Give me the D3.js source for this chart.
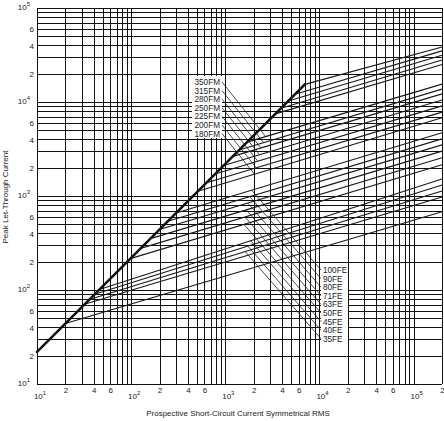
<!DOCTYPE html>
<html>
<head>
<meta charset="utf-8">
<script src="https://cdn.jsdelivr.net/npm/d3@7"></script>
<style>
  body { margin: 0; background: #fff; }
  text { font-family: "Liberation Sans", Arial, Helvetica, sans-serif; fill: #222; }
</style>
</head>
<body>
<svg id="chart" width="444" height="421"></svg>
<script>
// axis ranges (A)
const xDomain = [10, 2e5];
const yDomain = [10, 1e5];

// max let-through line: peak = 2.2 x symmetrical RMS
const peakFactor = 2.2;
const thickLineEnd = 7000;

// FM fuses: prospective current where the curve leaves the thick line, peak at 200 kA
const fmLabels = ["350FM", "315FM", "280FM", "250FM", "225FM", "200FM", "180FM"];
const fmCutoff = [1700, 1400, 1200, 960, 780, 630, 510];
const fmPeak = [15500, 13700, 12200, 10500, 9100, 7800, 6800];

// FE fuses
const feLabels = ["100FE", "90FE", "80FE", "71FE", "63FE", "50FE", "45FE", "40FE", "35FE"];
const feCutoff = [300, 245, 200, 160, 126, 98, 46, 41, 36];
const fePeak = [4700, 4050, 3500, 3000, 2550, 2150, 1520, 1310, 1130];

// other ratings drawn without a label
const otherCutoff = [7000, 5500, 4650, 3900, 3400, 32, 20];
const otherPeak = [38500, 35000, 31500, 28000, 25000, 975, 680];

// tick labels
const xTickLabels = [10, 20, 40, 60, 100, 200, 400, 600, 1000, 2000, 4000, 6000,
                     1e4, 2e4, 4e4, 6e4, 1e5, 2e5];
const yTickLabels = [10, 20, 40, 60, 100, 200, 400, 600, 1000, 2000, 4000, 6000,
                     1e4, 2e4, 4e4, 6e4, 1e5];

const xTitle = "Prospective Short-Circuit Current Symmetrical RMS";
const yTitle = "Peak Let-Through Current";

const margin = { top: 8, right: 2, bottom: 37, left: 37 };
const W = 444, H = 421;
const w = W - margin.left - margin.right;
const h = H - margin.top - margin.bottom;

const x = d3.scaleLog().domain(xDomain).range([margin.left, margin.left + w]);
const y = d3.scaleLog().domain(yDomain).range([margin.top + h, margin.top]);

const svg = d3.select("#chart");

// grid (all 1..9 multiples per decade)
const gx = svg.append("g")
    .attr("transform", `translate(0,${margin.top})`)
    .call(d3.axisBottom(x).tickValues(x.ticks()).tickSize(h).tickFormat(""));
const gy = svg.append("g")
    .attr("transform", `translate(${margin.left},0)`)
    .call(d3.axisRight(y).tickValues(y.ticks()).tickSize(w).tickFormat(""));
[gx, gy].forEach(g => {
    g.select(".domain").remove();
    g.selectAll(".tick line")
        .attr("stroke", "#111")
        .attr("stroke-width", 1)
        .attr("shape-rendering", "crispEdges");
});

// tick labels with superscript powers
const isPow10 = d => Math.abs(Math.log10(d) - Math.round(Math.log10(d))) < 1e-9;
const lead = d => String(Math.round(d / Math.pow(10, Math.floor(Math.log10(d) + 1e-9))));

const xl = svg.append("g")
    .attr("transform", `translate(0,${y(yDomain[0])})`)
    .call(d3.axisBottom(x).tickValues(xTickLabels).tickSize(0).tickFormat(""));
xl.select(".domain").remove();
xl.selectAll(".tick text").each(function (d) {
    const t = d3.select(this).attr("dy", null).attr("font-size", 8).attr("fill", "#222");
    if (isPow10(d)) {
        t.attr("x", -3.6).attr("y", 15).attr("text-anchor", "start").text("10");
        t.append("tspan").attr("dy", -4.5).attr("font-size", 6).text(Math.round(Math.log10(d)));
    } else {
        t.attr("x", 0).attr("y", 9).attr("text-anchor", "middle").text(lead(d));
    }
});
xl.attr("font-family", null).attr("font-size", null);

const yl = svg.append("g")
    .attr("transform", `translate(${margin.left},0)`)
    .call(d3.axisLeft(y).tickValues(yTickLabels).tickSize(0).tickFormat(""));
yl.select(".domain").remove();
yl.selectAll(".tick text").each(function (d) {
    const t = d3.select(this).attr("dy", null).attr("font-size", 8).attr("fill", "#222")
        .attr("text-anchor", "end");
    if (isPow10(d)) {
        t.attr("x", -7).attr("y", 1.5).text("10");
        t.append("tspan").attr("dy", -4.5).attr("font-size", 6).text(Math.round(Math.log10(d)));
    } else {
        t.attr("x", -3).attr("y", 3).text(lead(d));
    }
});
yl.attr("font-family", null).attr("font-size", null);

// white boxes behind the label blocks
const fmLabelY = fmLabels.map((_, i) => 82 + i * 8.6);
const feLabelY = feLabels.map((_, i) => 270 + i * 8.6);
svg.append("rect").attr("x", 192).attr("y", 76).attr("width", 30).attr("height", 62).attr("fill", "#fff");
svg.append("rect").attr("x", 321).attr("y", 264).attr("width", 27).attr("height", 80).attr("fill", "#fff");

// curves
const line = d3.line().x(d => x(d[0])).y(d => y(d[1]));
const curvePts = (c, p) => [[c, c * peakFactor], [xDomain[1], p]];

const curves = svg.append("g").attr("fill", "none").attr("stroke", "#1a1a1a").attr("stroke-width", 1.1);
otherCutoff.forEach((c, i) => curves.append("path").attr("d", line(curvePts(c, otherPeak[i]))));
fmCutoff.forEach((c, i) => curves.append("path").attr("d", line(curvePts(c, fmPeak[i]))));
feCutoff.forEach((c, i) => curves.append("path").attr("d", line(curvePts(c, fePeak[i]))));

svg.append("path")
    .attr("d", line([[xDomain[0], xDomain[0] * peakFactor], [thickLineEnd, thickLineEnd * peakFactor]]))
    .attr("fill", "none").attr("stroke", "#111").attr("stroke-width", 2.6)
    .attr("stroke-linecap", "round");

// leader lines: from label to the point where they meet their curve
function meet(p0, dir, a, b) {
    const ex = b[0] - a[0], ey = b[1] - a[1];
    const den = dir[0] * ey - dir[1] * ex;
    const t = ((a[0] - p0[0]) * ey - (a[1] - p0[1]) * ex) / den;
    return [p0[0] + t * dir[0], p0[1] + t * dir[1]];
}
const pix = pts => pts.map(d => [x(d[0]), y(d[1])]);

const leaders = svg.append("g").attr("stroke", "#222").attr("stroke-width", 0.8);
fmLabels.forEach((_, i) => {
    const [a, b] = pix(curvePts(fmCutoff[i], fmPeak[i]));
    const p0 = [222, fmLabelY[i]];
    const q = meet(p0, [1, 1.25], a, b);
    leaders.append("line").attr("x1", p0[0]).attr("y1", p0[1]).attr("x2", q[0]).attr("y2", q[1]);
});
feLabels.forEach((_, i) => {
    const [a, b] = pix(curvePts(feCutoff[i], fePeak[i]));
    const p0 = [321, feLabelY[i]];
    const q = meet(p0, [-1, -1.15], a, b);
    leaders.append("line").attr("x1", p0[0]).attr("y1", p0[1]).attr("x2", q[0]).attr("y2", q[1]);
});

// labels
svg.append("g").selectAll("text").data(fmLabels).join("text")
    .attr("x", 220).attr("y", (d, i) => fmLabelY[i] + 3)
    .attr("text-anchor", "end").attr("font-size", 8.2).text(d => d);
svg.append("g").selectAll("text").data(feLabels).join("text")
    .attr("x", 323).attr("y", (d, i) => feLabelY[i] + 3)
    .attr("text-anchor", "start").attr("font-size", 8.2).text(d => d);

// titles
svg.append("text").attr("x", 238).attr("y", 416).attr("text-anchor", "middle")
    .attr("font-size", 8).text(xTitle);
svg.append("text").attr("transform", "translate(8,197) rotate(-90)").attr("text-anchor", "middle")
    .attr("font-size", 8).text(yTitle);
</script>
</body>
</html>
